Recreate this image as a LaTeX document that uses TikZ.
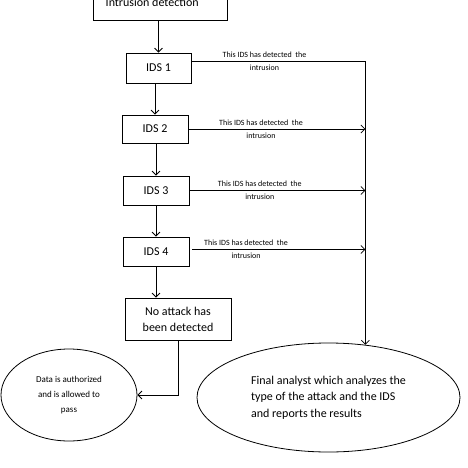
\documentclass[tikz,border=0pt]{standalone}
\usepackage{fontspec}
\setmainfont{Carlito}
\usetikzlibrary{shapes.geometric,arrows.meta,calc}

\begin{document}
\begin{tikzpicture}[x=1pt,y=-1pt,line width=0.8pt,
  box/.style={draw,rectangle,inner sep=0,font=\fontsize{12}{16}\selectfont,align=center},
  oval/.style={draw,ellipse,inner sep=0},
  arr/.style={-{Straight Barb[length=4pt,width=8pt]}},
  lbl/.style={font=\fontsize{8}{13}\selectfont,align=center}]
\useasboundingbox (0,0) rectangle (468,468);
\clip (0,0) rectangle (468,468);
% chain of detectors
\node (detect) [box,minimum width=134,minimum height=44] at (160,-2) {};
\node (detecttxt) [anchor=base west,font=\fontsize{12}{14}\selectfont] at (102,7) {Intrusion detection};
\node (ids1) [box,minimum width=65,minimum height=30] at (158.5,68) {IDS 1};
\node (ids2) [box,minimum width=66,minimum height=28] at (155,129) {IDS 2};
\node (ids3) [box,minimum width=66,minimum height=29] at (156,190.5) {IDS 3};
\node (ids4) [box,minimum width=66,minimum height=29] at (156,251.5) {IDS 4};
\node (noattack) [box,minimum width=106,minimum height=42] at (178,319) {No attack has\\been detected};
% end points
\node (data) [oval,minimum width=136,minimum height=92,font=\fontsize{9}{15}\selectfont,align=center]
      at (69,395) {Data is authorized\\and is allowed to\\pass};
\node (final) [oval,minimum width=263,minimum height=109,font=\fontsize{12}{16.5}\selectfont,align=left]
      at (328.5,397.5) {Final analyst which analyzes the\\type of the attack and the IDS\\and reports the results};
\coordinate (in) at (final.55);
\coordinate (out1) at ($(ids1.east)+(0,-7)$);
\coordinate (out4) at ($(ids4.east)+(3,-2)$);
% down the chain
\draw[arr] (ids1.north |- detect.south) -- (ids1);
\draw[arr] (ids1.south -| ids2) -- (ids2);
\draw[arr] (ids2.south -| ids3) -- (ids3);
\draw[arr] (ids3.south -| ids4) -- (ids4);
\draw[arr] (ids4.south) -- (ids4.south |- noattack.north);
\draw[arr] (noattack.south) |- (data.east);
% to the analyst
\draw[arr] (out1) -| (in)
      node[lbl,pos=0.21] {This IDS has detected\ \ the\\intrusion};
\draw[arr] (ids2.east) -- (ids2.east -| in)
      node[lbl,pos=0.41] {This IDS has detected\ \ the\\intrusion};
\draw[arr] (ids3.east) -- (ids3.east -| in)
      node[lbl,pos=0.40] {This IDS has detected\ \ the\\intrusion};
\draw[arr] (out4) -- (out4 -| in)
      node[lbl,pos=0.31] {This IDS has detected\ \ the\\intrusion};
\end{tikzpicture}
\end{document}
